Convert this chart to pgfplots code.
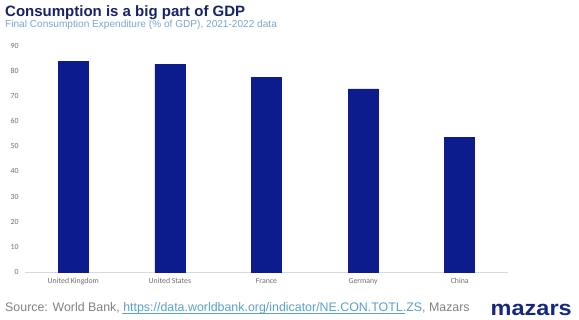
\documentclass[border=0pt]{standalone}
\usepackage{pgfplots}
\pgfplotsset{compat=1.18}
\usepackage{fontspec}
\setmainfont{Liberation Sans}
\newfontfamily\calibri{Carlito}
\definecolor{barblue}{RGB}{12,28,140}
\definecolor{titlenavy}{RGB}{24,34,100}
\definecolor{subblue}{RGB}{120,165,210}
\definecolor{srcgray}{RGB}{128,128,128}
\definecolor{urlblue}{RGB}{90,160,200}
\definecolor{logoblue}{RGB}{20,40,130}
\definecolor{ticklab}{RGB}{110,110,110}
\definecolor{axgray}{RGB}{217,217,217}
\begin{document}
\begin{tikzpicture}
\useasboundingbox (0,0) rectangle (579pt,320pt);
\begin{axis}[
  at={(25pt,48pt)}, anchor=south west,
  scale only axis, width=483pt, height=226.3pt,
  xmin=-0.5, xmax=4.5, ymin=0, ymax=90,
  xtick={0,1,2,3,4},
  xticklabels={United Kingdom,United States,France,Germany,China},
  ytick={0,10,...,90},
  major tick length=0pt,
  axis y line*=left,
  y axis line style={draw=none},
  axis x line*=bottom,
  x axis line style={draw=axgray, line width=0.8pt, -},
  ticklabel style={font=\calibri\fontsize{7.8}{9}\selectfont, text=ticklab},
  yticklabel style={anchor=east, xshift=-3pt},
  xticklabel style={yshift=-3pt},
  /pgf/number format/assume math mode=true,
  clip=false,
]
\addplot[ybar, bar width=30pt, fill=barblue, draw=barblue] coordinates {
  (0,83.9) (1,82.6) (2,77.3) (3,72.8) (4,53.6)
};
\end{axis}
\node[anchor=base west, inner sep=0pt, text=titlenavy, font=\bfseries\fontsize{15}{18}\selectfont] at (5pt,303pt) {Consumption is a big part of GDP};
\node[anchor=base west, inner sep=0pt, text=subblue, font=\fontsize{10.1}{12}\selectfont] at (5pt,292.5pt) {Final Consumption Expenditure (\% of GDP), 2021-2022 data};
\node[anchor=base west, inner sep=0pt, text=srcgray, font=\fontsize{12.4}{14}\selectfont] at (5pt,8pt) {Source: World Bank, \textcolor{urlblue}{https://data.worldbank.org/indicator/NE.CON.TOTL.ZS}, Mazars};
\draw[urlblue, line width=0.5pt] (122pt,6.8pt) -- (405pt,6.8pt);
\node[anchor=base east, inner sep=0pt, text=logoblue, xscale=1.12, font=\bfseries\fontsize{21}{24}\selectfont] at (572pt,4pt) {mazars};
\end{tikzpicture}
\end{document}
